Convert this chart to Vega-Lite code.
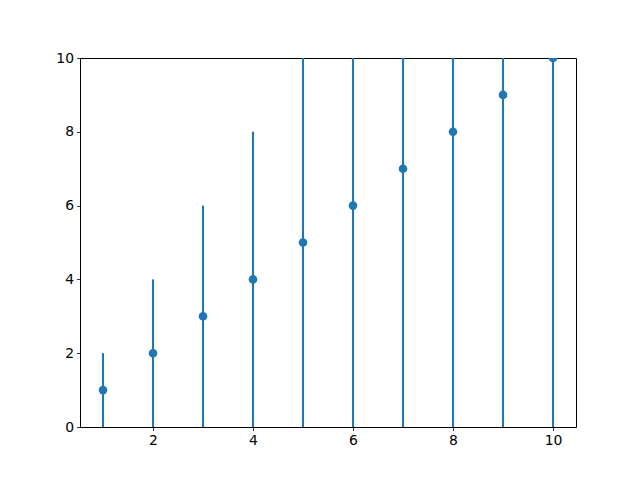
{
  "$schema": "https://vega.github.io/schema/vega-lite/v6.json",
  "width": 496,
  "height": 369,
  "autosize": {"type": "none"},
  "padding": {"left": 80, "top": 58, "right": 64, "bottom": 53},
  "background": "white",
  "config": {
    "view": {"stroke": "black", "strokeWidth": 1},
    "axis": {
      "grid": false,
      "domain": false,
      "tickColor": "black",
      "tickSize": 3.5,
      "tickWidth": 0.8,
      "labelFont": "DejaVu Sans",
      "labelFontSize": 13.9,
      "labelColor": "black",
      "labelPadding": 3,
      "title": null
    }
  },
  "data": {
    "values": [
      {"x": 1, "y": 1, "lo": 0, "hi": 2},
      {"x": 2, "y": 2, "lo": 0, "hi": 4},
      {"x": 3, "y": 3, "lo": 0, "hi": 6},
      {"x": 4, "y": 4, "lo": 0, "hi": 8},
      {"x": 5, "y": 5, "lo": 0, "hi": 10},
      {"x": 6, "y": 6, "lo": 0, "hi": 12},
      {"x": 7, "y": 7, "lo": 0, "hi": 14},
      {"x": 8, "y": 8, "lo": 0, "hi": 16},
      {"x": 9, "y": 9, "lo": 0, "hi": 18},
      {"x": 10, "y": 10, "lo": 0, "hi": 20}
    ]
  },
  "layer": [
    {
      "mark": {"type": "rule", "color": "#1f77b4", "strokeWidth": 2.08, "clip": true},
      "encoding": {
        "x": {"field": "x", "type": "quantitative", "scale": {"domain": [0.54, 10.46], "nice": false, "zero": false},
              "axis": {"values": [2, 4, 6, 8, 10]}},
        "y": {"field": "lo", "type": "quantitative", "scale": {"domain": [0, 10], "nice": false},
              "axis": {"values": [0, 2, 4, 6, 8, 10]}},
        "y2": {"field": "hi"}
      }
    },
    {
      "mark": {"type": "point", "shape": "circle", "filled": true, "color": "#1f77b4", "opacity": 1, "size": 74, "clip": true},
      "encoding": {
        "x": {"field": "x", "type": "quantitative"},
        "y": {"field": "y", "type": "quantitative"}
      }
    }
  ]
}
